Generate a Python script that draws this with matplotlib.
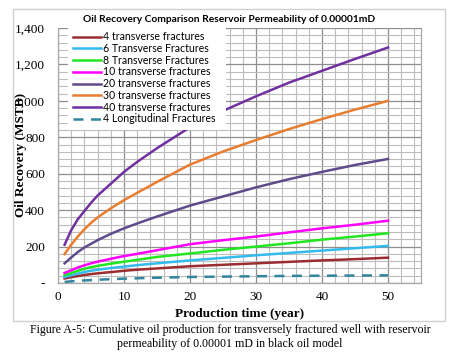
import matplotlib
matplotlib.use("Agg")
import matplotlib.pyplot as plt
from matplotlib.ticker import MultipleLocator, FuncFormatter
from matplotlib.patches import Rectangle

years = [1, 2, 3, 4, 5, 6, 8, 10, 12, 15, 20, 25, 30, 35, 40, 45, 50]
tf4 = [25, 32, 38, 44, 49, 53, 60, 67, 73, 80, 92, 100, 108, 116, 124, 131, 139]
tf6 = [33, 42, 52, 60, 67, 73, 82, 90, 98, 108, 124, 138, 152, 165, 178, 191, 204]
tf8 = [43, 55, 67, 78, 87, 94, 106, 117, 127, 143, 162, 182, 200, 218, 238, 255, 273]
tf10 = [55, 70, 85, 97, 108, 117, 133, 148, 160, 180, 213, 235, 255, 278, 300, 320, 342]
tf20 = [108, 140, 170, 195, 215, 235, 270, 300, 327, 365, 425, 475, 525, 570, 610, 648, 681]
tf30 = [159, 210, 255, 295, 330, 360, 410, 455, 495, 555, 650, 722, 785, 845, 900, 952, 1000]
tf40 = [210, 290, 350, 395, 440, 480, 545, 610, 665, 740, 855, 945, 1025, 1100, 1165, 1230, 1293]
lf4 = [6, 9, 12, 14, 16, 18, 21, 24, 26, 29, 33, 35, 37, 39, 40, 41, 42]

labels = ["4 transverse fractures", "6 Transverse Fractures", "8 Transverse Fractures",
          "10 transverse fractures", "20 transverse fractures", "30 transverse fractures",
          "40 transverse fractures", "4 Longitudinal Fractures"]
series = [tf4, tf6, tf8, tf10, tf20, tf30, tf40, lf4]
colors = ["#9B2D30", "#33BBEE", "#22E622", "#FF00FF", "#5F4B8B", "#E87D2F", "#7030A0", "#31859C"]

title = "Oil Recovery Comparison Reservoir Permeability of 0.00001mD"
xlabel = "Production time (year)"
ylabel = "Oil Recovery (MSTB)"
caption1 = "Figure A-5: Cumulative oil production for transversely fractured well with reservoir"
caption2 = "permeability of 0.00001 mD in black oil model"

W, H = 474, 352
fig = plt.figure(figsize=(W / 100, H / 100), dpi=100)
fig.patch.set_facecolor("white")

# chart frame
fig.patches.append(Rectangle((13 / W, 1 - 321 / H), (445 - 13) / W, (321 - 9) / H,
                             transform=fig.transFigure, fill=False, edgecolor="#D0D0D0", lw=1.0))

ax_w, ax_h = 421 - 58, 283 - 28
ax = fig.add_axes([58 / W, 1 - 283 / H, ax_w / W, ax_h / H])
for i, (s, c, lab) in enumerate(zip(series, colors, labels)):
    if i == 7:
        ax.plot(years, s, color=c, lw=1.8, ls=(0, (4, 3)), label=lab)
    else:
        ax.plot(years, s, color=c, lw=1.8, label=lab)

ax.set_xlim(0, 55)
ax.set_ylim(0, 1400)
ax.set_xticks(range(0, 51, 10))
ax.xaxis.set_minor_locator(MultipleLocator(2))
ax.yaxis.set_major_locator(MultipleLocator(200))
ax.yaxis.set_minor_locator(MultipleLocator(40))
ax.grid(which="major", color="#8E8E8E", lw=0.9)
ax.grid(which="minor", color="#BDBDBD", lw=0.8)
ax.set_axisbelow(True)
ax.tick_params(which="both", length=0)
ax.tick_params(axis="y", pad=9.4)
ax.tick_params(axis="x", pad=6)
for name, sp in ax.spines.items():
    sp.set_color("#A8A8A8")
    sp.set_linewidth(0.9)
ax.spines["top"].set_visible(False)

ax.yaxis.set_major_formatter(FuncFormatter(lambda v, p: "-" if v == 0 else f"{int(v):,}"))
for lab in ax.get_xticklabels() + ax.get_yticklabels():
    lab.set_fontfamily("Liberation Serif")
    lab.set_fontsize(9.5)

ax.set_xlabel(xlabel, family="Liberation Serif", fontweight="bold", fontsize=9.5, labelpad=3)
fig.text(21 / W, 1 - 155 / H, ylabel, rotation=90, ha="center", va="center",
         family="Liberation Serif", fontweight="bold", fontsize=9.5)

leg = ax.legend(loc="upper left", bbox_to_anchor=(10 / ax_w, 1 + 2 / ax_h, (226 - 68) / ax_w, 0),
                mode="expand",
                prop={"family": "Lato", "size": 7.6}, frameon=True,
                facecolor="white", edgecolor="none", framealpha=1, fancybox=False,
                borderaxespad=0, labelspacing=0.07, handlelength=2.65, handletextpad=0.2,
                borderpad=0.5)

fig.text(229 / W, 1 - 19 / H, title, ha="center", va="center", family="Lato",
         fontweight="bold", fontsize=7.4)
fig.text(230 / W, 1 - 330 / H, caption1, ha="center", va="center",
         family="Liberation Serif", fontsize=8.6)
fig.text(230 / W, 1 - 344 / H, caption2, ha="center", va="center",
         family="Liberation Serif", fontsize=8.6)

fig.savefig("out.png", dpi=100)
